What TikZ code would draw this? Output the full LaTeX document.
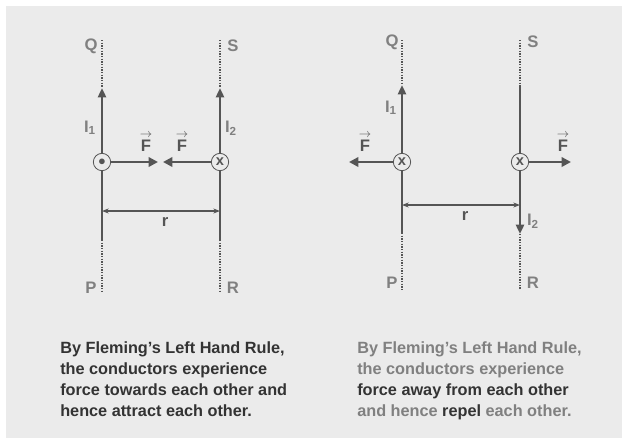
\documentclass[tikz,border=0pt]{standalone}
\usepackage{fontspec}
\setmainfont{Liberation Sans}
\usetikzlibrary{arrows.meta}
\definecolor{bg}{HTML}{EBEBEB}
\definecolor{wire}{HTML}{555555}
\definecolor{lab}{HTML}{808080}
\definecolor{txt}{HTML}{333333}
\newcommand{\fvec}{$\stackrel{\rightarrow}{\textbf{F}}$}
\begin{document}
\begin{tikzpicture}[x=0.75pt,y=-0.75pt,
  solidw/.style={draw=wire,line width=2pt},
  dotw/.style={draw=wire,line width=2pt,dash pattern=on 1pt off 1pt},
  arr/.style={-{Triangle[length=7pt,width=6pt]}},
  forcea/.style={draw=wire,line width=2pt,-{Triangle[length=7pt,width=7pt]}},
  ring/.style={circle,draw=wire,fill=bg,line width=0.6pt,minimum size=13pt,inner sep=0pt,font=\bfseries\fontsize{11}{12}\selectfont,text=wire},
  lbl/.style={text=lab,font=\bfseries\fontsize{12.5}{14}\selectfont},
  dim/.style={draw=wire,line width=0.8pt,{Stealth[length=5pt]}-{Stealth[length=5pt]}},
  body/.style={align=left,anchor=north west,font=\bfseries\fontsize{12.2}{15.75}\selectfont,inner sep=0pt}]
\useasboundingbox (0,0) rectangle (628,444);
\fill[white] (0,0) rectangle (628,444);
\fill[bg] (6,6) rectangle (622,438);
% ---- left diagram
\coordinate (aQ) at (102,40); \coordinate (aT) at (102,88); \coordinate (aB) at (102,240); \coordinate (aP) at (102,292);
\coordinate (bS) at (220,40); \coordinate (bT) at (220,88); \coordinate (bB) at (220,240); \coordinate (bR) at (220,292);
\draw[dotw] (aQ)--(aT); \draw[dotw] (aB)--(aP);
\draw[dotw] (bS)--(bT); \draw[dotw] (bB)--(bR);
\draw[solidw,arr] (aB)--(aT);
\draw[solidw,arr] (bB)--(bT);
\node[ring] (c1) at (102,162) {$\bullet$};
\node[ring] (c2) at (220,162) {x};
\coordinate (f1) at (158,162); \coordinate (f2) at (163,162);
\draw[forcea] (c1)--(f1);
\draw[forcea] (c2)--(f2);
\node[lbl,text=wire] at (146,142) {\fvec};
\node[lbl,text=wire] at (182,142) {\fvec};
\node[lbl] at (90,128) {I\textsubscript{1}};
\node[lbl] at (231,128) {I\textsubscript{2}};
\coordinate (r1) at (102,211); \coordinate (r2) at (220,211);
\draw[dim] (r1)--(r2);
\node[lbl,text=wire] at (165,222) {r};
\node[lbl] at (91,46) {Q}; \node[lbl] at (233,46) {S};
\node[lbl] at (91,288) {P}; \node[lbl] at (233,288) {R};
\node[body,text=txt] at (60,341) {By Fleming’s Left Hand Rule,\\the conductors experience\\force towards each other and\\hence attract each other.};
% ---- right diagram
\coordinate (cQ) at (402,40); \coordinate (cT) at (402,85); \coordinate (cB) at (402,233); \coordinate (cP) at (402,290);
\coordinate (dS) at (520,40); \coordinate (dT) at (520,86); \coordinate (dB) at (520,234); \coordinate (dR) at (520,290);
\draw[dotw] (cQ)--(cT); \draw[dotw] (cB)--(cP);
\draw[dotw] (dS)--(dT); \draw[dotw] (dB)--(dR);
\draw[solidw,arr] (cB)--(cT);
\draw[solidw,arr] (dT)--(dB);
\node[ring] (c3) at (402,162) {x};
\node[ring] (c4) at (520,162) {x};
\coordinate (f3) at (349,162); \coordinate (f4) at (571,162);
\draw[forcea] (c3)--(f3);
\draw[forcea] (c4)--(f4);
\node[lbl,text=wire] at (365,142) {\fvec};
\node[lbl,text=wire] at (563,142) {\fvec};
\node[lbl] at (391,108) {I\textsubscript{1}};
\node[lbl] at (533,221) {I\textsubscript{2}};
\coordinate (r3) at (402,205); \coordinate (r4) at (520,205);
\draw[dim] (r3)--(r4);
\node[lbl,text=wire] at (465,216) {r};
\node[lbl] at (392,42) {Q}; \node[lbl] at (533,42) {S};
\node[lbl] at (392,283) {P}; \node[lbl] at (533,283) {R};
\node[body,text=lab] at (357,341) {By Fleming’s Left Hand Rule,\\the conductors experience\\\textcolor{txt}{force away from each other}\\and hence \textcolor{txt}{repel} each other.};
\end{tikzpicture}
\end{document}
